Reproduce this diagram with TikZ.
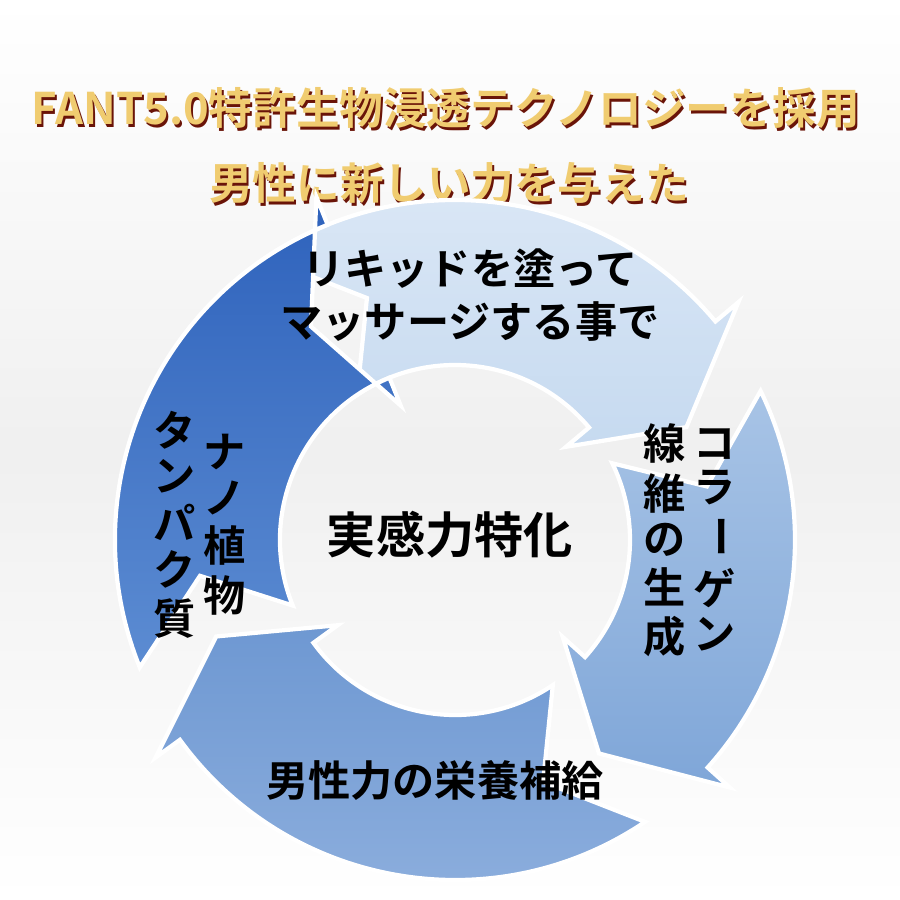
\documentclass[tikz,border=0pt]{standalone}
\usepackage{fontspec}
\newfontfamily\jp{Noto Sans CJK JP Bold}
\usepackage{graphicx}
\definecolor{gold}{HTML}{F0CC70}
\definecolor{shad}{HTML}{6A1408}
\definecolor{c1a}{HTML}{DCE8F6}\definecolor{c1b}{HTML}{C6DAF0}
\definecolor{c2a}{HTML}{A8C4E6}\definecolor{c2b}{HTML}{7FA6D8}
\definecolor{c3a}{HTML}{8FB0DE}\definecolor{c3b}{HTML}{6E98D2}
\definecolor{c4a}{HTML}{2E62BC}\definecolor{c4b}{HTML}{5C8CD2}
% start, end (start>end, clockwise), tip, color1, color2
\newcommand{\seg}[5]{%
  \shade[top color=#4,bottom color=#5,draw=white,line width=1.2pt]
   (#1:3.4) arc[start angle=#1,end angle=#2,radius=3.4] -- (#2:3.7) -- (#3:2.575)
   -- (#2:1.45) -- (#2:1.75) arc[start angle=#2,end angle=#1,radius=1.75]
   -- (#1-14:2.575) -- cycle;}
\newcommand{\vt}[1]{{\baselineskip=12.8pt\shortstack{#1}}}
\begin{document}
\begin{tikzpicture}[x=1cm,y=1cm,
  lbl/.style={font=\jp\fontsize{12}{16}\selectfont,text=black,align=center},
  ttl/.style={font=\jp\fontsize{12.4}{14}\selectfont}]
\useasboundingbox (0,0) rectangle (9,9);
\shade[top color=white,bottom color=white,middle color=gray!12] (0,0) rectangle (9,9);
\node[ttl,text=shad] (t1s) at (4.48,7.89) {FANT5.0特許生物浸透テクノロジーを採用};
\node[ttl,text=gold] (t1) at (4.46,7.92) {FANT5.0特許生物浸透テクノロジーを採用};
\node[ttl,text=shad] (t2s) at (4.51,7.14) {男性に新しい力を与えた};
\node[ttl,text=gold] (t2) at (4.49,7.17) {男性に新しい力を与えた};
\begin{scope}[shift={(4.55,3.6)}]
\seg{124}{40}{26}{c1a}{c1b}
\seg{26}{-42}{-56}{c2a}{c2b}
\seg{-56}{-144}{-158}{c3b}{c3a}
\seg{202}{112}{124}{c4a}{c4b}
\end{scope}
\node[lbl,font=\jp\fontsize{14}{16}\selectfont] (c) at (4.5,3.65) {実感力特化};
\node[lbl] (top) at (4.7,6.05) {リキッドを塗って\\[-1pt]マッサージする事で};
\node[lbl] (bot) at (4.35,1.2) {男性力の栄養補給};
\node[lbl] (r1) at (7.15,3.6) {\vt{コ\\ラ\\\rotatebox{-90}{ー}\\ゲ\\ン}};
\node[lbl] (r2) at (6.65,3.6) {\vt{線\\維\\の\\生\\成}};
\node[lbl] (l1) at (2.25,3.75) {\vt{ナ\\ノ\\植\\物}};
\node[lbl] (l2) at (1.75,3.75) {\vt{タ\\ン\\パ\\ク\\質}};
\end{tikzpicture}
\end{document}
